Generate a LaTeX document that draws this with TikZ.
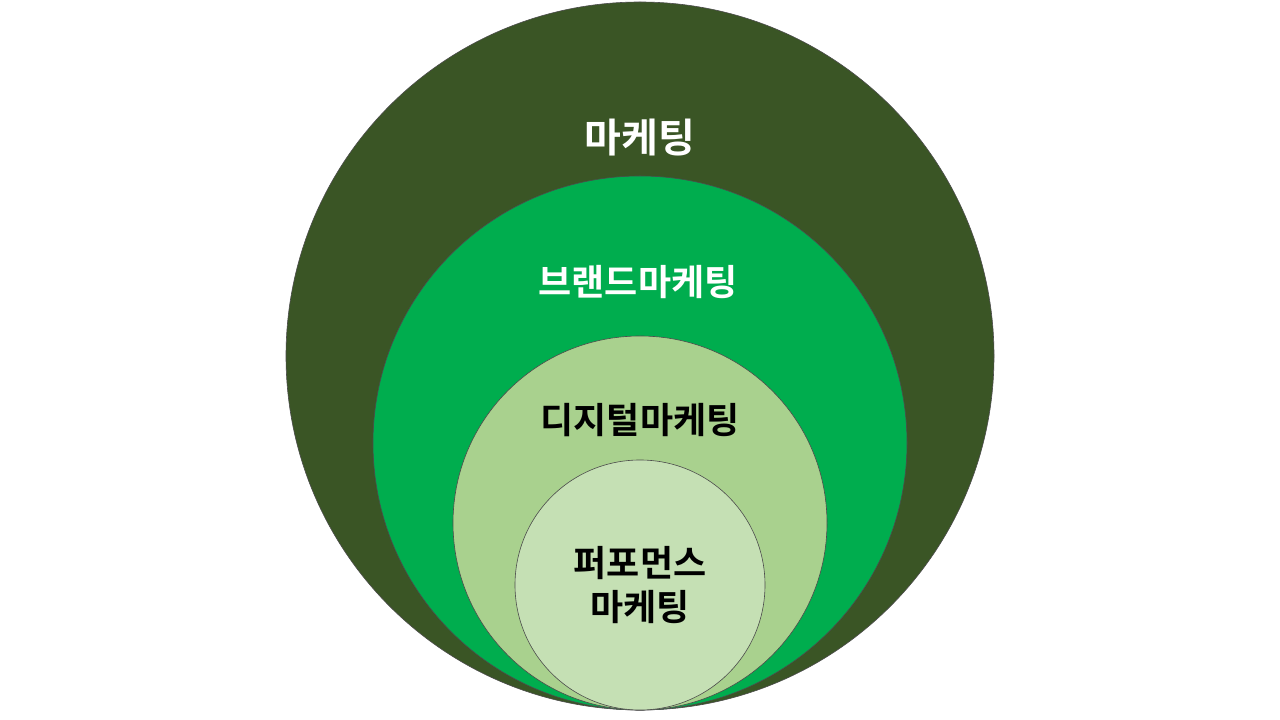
\documentclass[tikz,border=0pt]{standalone}
\usepackage{fontspec}
\newfontfamily\kr{Noto Sans CJK KR Bold}
\definecolor{c1}{HTML}{3A5525}
\definecolor{c2}{HTML}{00AD4E}
\definecolor{c3}{HTML}{A9D18E}
\definecolor{c4}{HTML}{C5E0B4}
\tikzset{ring/.style={draw=black!70,line width=0.6pt},lbl/.style={font=\kr\fontsize{36}{44}\selectfont,align=center}}
\begin{document}
\begin{tikzpicture}[x=1pt,y=1pt]
\useasboundingbox (0,0) rectangle (1280,720);
\fill[white] (0,0) rectangle (1280,720);
\path[ring,fill=c1] (640,364) circle (354);
\path[ring,fill=c2] (640,277) circle (267);
\path[ring,fill=c3] (640,197) circle (187);
\path[ring,fill=c4] (640,135) circle (125);
\node[lbl,text=white,font=\kr\fontsize{40}{48}\selectfont] (a) at (640,582) {마케팅};
\node[lbl,text=white] (b) at (638,438) {브랜드마케팅};
\node[lbl,text=black] (c) at (640,300) {디지털마케팅};
\node[lbl,text=black] (d) at (640,135) {퍼포먼스\\마케팅};
\end{tikzpicture}
\end{document}
